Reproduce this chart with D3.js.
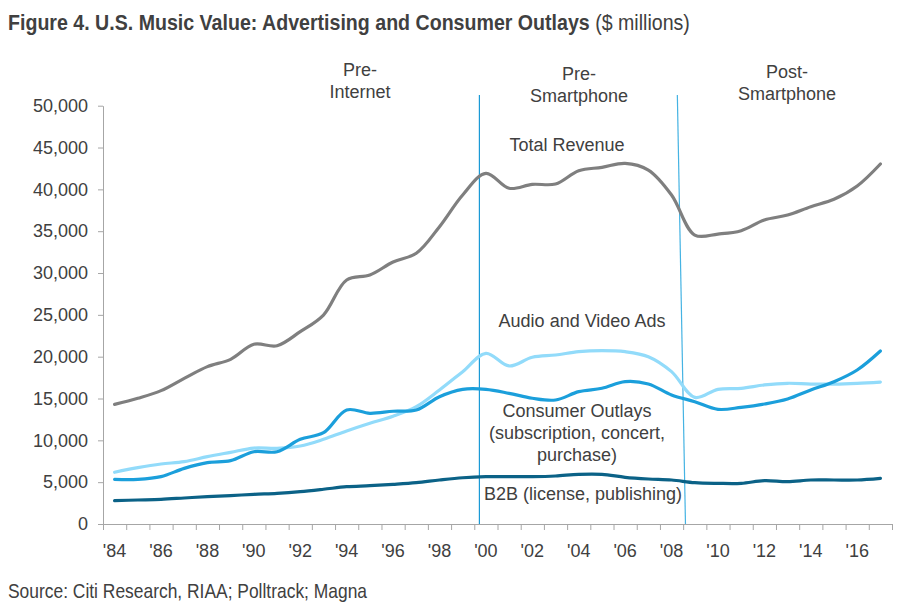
<!DOCTYPE html>
<html>
<head>
<meta charset="utf-8">
<script src="https://cdn.jsdelivr.net/npm/d3@7"></script>
<style>
  body { margin: 0; background: #fff; }
  text { font-family: "Liberation Sans", Arial, sans-serif; fill: #404040; }
</style>
</head>
<body>
<div id="chart"></div>
<script>
// Years 1984 - 2017
const years = d3.range(1984, 2018);

// $ millions
const totalRevenue = [14300, 15030, 15940, 17410, 18810, 19680, 21480, 21310, 22990, 24980,
  29170, 29760, 31320, 32360, 35540, 39330, 41920, 40130, 40600, 40640,
  42230, 42630, 43110, 42310, 39330, 34540, 34660, 35060, 36340, 36930,
  37930, 38810, 40400, 43030];
const audioVideoAds = [6180, 6730, 7170, 7450, 8050, 8570, 9080, 9050, 9320, 10120,
  11120, 12040, 12880, 14020, 16020, 18210, 20400, 18890, 19930, 20200,
  20600, 20720, 20600, 20000, 18210, 15140, 16100, 16220, 16620, 16820,
  16730, 16730, 16820, 16970];
const consumerOutlays = [5340, 5340, 5660, 6650, 7330, 7570, 8640, 8640, 10120, 10910,
  13630, 13230, 13480, 13630, 15220, 16100, 16100, 15620, 15030, 14820,
  15820, 16220, 17010, 16730, 15420, 14620, 13710, 13950, 14340, 14940,
  16020, 17010, 18410, 20680];
const b2b = [2790, 2870, 2950, 3110, 3270, 3390, 3550, 3670, 3870, 4150,
  4460, 4580, 4740, 4940, 5260, 5530, 5660, 5660, 5660, 5740,
  5940, 5940, 5580, 5380, 5260, 4940, 4860, 4860, 5180, 5060,
  5260, 5260, 5260, 5460];

const yTicks = d3.range(0, 50001, 5000);
const xLabelYears = d3.range(1984, 2017, 2);

// era dividers (year position at top and bottom of the line)
const dividers = [
  { top: 1999.72, bottom: 1999.72, color: '#1a9ad6' },
  { top: 2008.25, bottom: 2008.6, color: '#45b3e3' }
];

const series = [
  { name: 'Total Revenue', values: totalRevenue, color: '#7f7f7f' },
  { name: 'Audio and Video Ads', values: audioVideoAds, color: '#92dbfa' },
  { name: 'Consumer Outlays', values: consumerOutlays, color: '#1b9fdb' },
  { name: 'B2B', values: b2b, color: '#0b6287' }
];

const width = 912, height = 608;
const svg = d3.select('#chart')
  .append('svg')
  .attr('width', width)
  .attr('height', height);

// Scales
const x = d3.scaleLinear()
  .domain([1983.5, 2017.5])
  .range([103, 892]);

const y = d3.scaleLinear()
  .domain([0, 50000])
  .range([524, 105.7]);

// squeeze a text horizontally so it looks like a narrow font
function squeeze(sel, x0, y0, targetWidth) {
  const w = sel.node().getComputedTextLength();
  sel.attr('transform', `translate(${x0},${y0}) scale(${targetWidth / w},1)`);
}

// Title
const title = svg.append('text')
  .style('font-size', '22px');
title.append('tspan').style('font-weight', 'bold').text('Figure 4. U.S. Music Value: Advertising and Consumer Outlays');
title.append('tspan').text(' ($ millions)');
squeeze(title, 8, 30, 682);

// Y axis
const yAxis = svg.append('g')
  .attr('transform', `translate(${x.range()[0]},0)`)
  .call(d3.axisLeft(y).tickValues(yTicks).tickSize(5).tickSizeOuter(0).tickFormat(d3.format(',')));
yAxis.selectAll('path, line').attr('stroke', '#a6a6a6');
yAxis.selectAll('text')
  .attr('x', -15)
  .style('font-size', '18px')
  .style('font-family', '"Liberation Sans", Arial, sans-serif')
  .attr('fill', '#404040');

// X axis: tick marks between years
const xAxis = svg.append('g')
  .attr('transform', `translate(0,${y(0)})`)
  .call(d3.axisBottom(x).tickValues(d3.range(1983.5, 2018, 1)).tickSize(6).tickSizeOuter(0).tickFormat(''));
xAxis.selectAll('path, line').attr('stroke', '#a6a6a6');

// X labels
svg.append('g')
  .selectAll('text')
  .data(xLabelYears)
  .enter()
  .append('text')
  .attr('x', d => x(d))
  .attr('y', y(0) + 33)
  .attr('text-anchor', 'middle')
  .style('font-size', '18px')
  .text(d => "'" + String(d).slice(2));

// Era divider lines
svg.selectAll('.divider')
  .data(dividers)
  .enter()
  .append('line')
  .attr('class', 'divider')
  .attr('x1', d => x(d.top))
  .attr('x2', d => x(d.bottom))
  .attr('y1', 95)
  .attr('y2', y(0))
  .attr('stroke', d => d.color)
  .attr('stroke-width', 1.2);

// Lines
const line = d3.line()
  .x((d, i) => x(years[i]))
  .y(d => y(d))
  .curve(d3.curveCatmullRom.alpha(0.5));

svg.selectAll('.series')
  .data(series)
  .enter()
  .append('path')
  .attr('class', 'series')
  .attr('fill', 'none')
  .attr('stroke', d => d.color)
  .attr('stroke-width', 3.2)
  .attr('stroke-linecap', 'round')
  .attr('d', d => line(d.values));

// Annotations
const notes = [
  { x: 360, y: 76, lines: ['Pre-', 'Internet'] },
  { x: 579, y: 80, lines: ['Pre-', 'Smartphone'] },
  { x: 787, y: 78, lines: ['Post-', 'Smartphone'] },
  { x: 567, y: 151, lines: ['Total Revenue'] },
  { x: 582, y: 327, lines: ['Audio and Video Ads'] },
  { x: 577, y: 417, lines: ['Consumer Outlays', '(subscription, concert,', 'purchase)'] },
  { x: 583, y: 500, lines: ['B2B (license, publishing)'] }
];
notes.forEach(n => {
  const t = svg.append('text')
    .attr('x', n.x)
    .attr('y', n.y)
    .attr('text-anchor', 'middle')
    .style('font-size', '18px');
  n.lines.forEach((l, i) => {
    t.append('tspan').attr('x', n.x).attr('dy', i === 0 ? 0 : 22).text(l);
  });
});

// Source
const source = svg.append('text')
  .style('font-size', '20px')
  .text('Source: Citi Research, RIAA; Polltrack; Magna');
squeeze(source, 8, 598, 359);
</script>
</body>
</html>
